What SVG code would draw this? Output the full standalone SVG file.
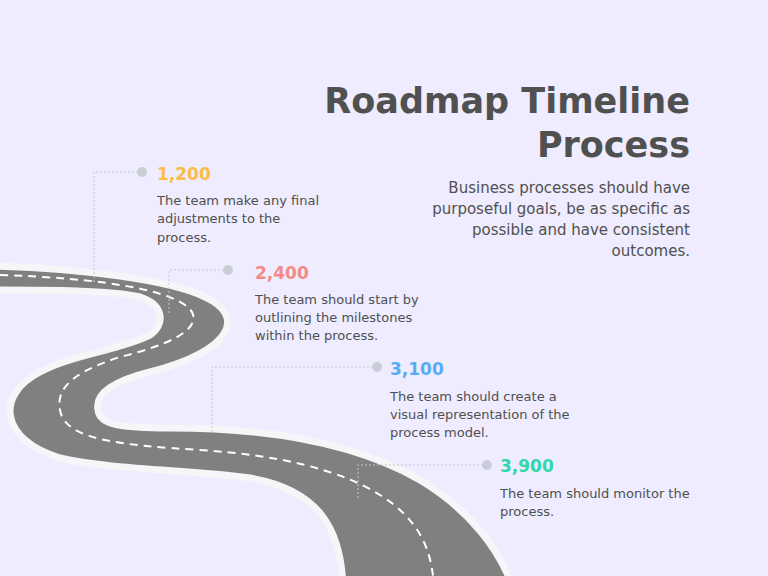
<svg xmlns="http://www.w3.org/2000/svg" width="768" height="576" viewBox="0 0 768 576">
<style>
text{font-family:"DejaVu Sans",sans-serif;fill:#505050}
.t{font-size:35px;font-weight:bold;text-anchor:end}
.s{font-size:15px;text-anchor:end}
.n{font-size:17px;font-weight:bold}
.d{font-size:13px}
.lead{fill:none;stroke:#c4c8d0;stroke-width:1;stroke-dasharray:2 2}
.dot{fill:#c9ced6}
</style>
<rect width="768" height="576" fill="#eeecfe"/>
<g id="road">
<path d="M-10,266 C80,268 170,280 205,297 C245,315 235,350 150,372 C110,382 95,395 98,410 C100,425 120,428 170,428 C260,428 350,440 420,480 C470,510 500,550 514,590 L343,590 C342,530 320,490 250,478 C200,470 110,470 60,458 C0,440 -5,395 40,372 C70,355 120,350 150,335 C165,325 165,305 140,297 C110,290 50,290 -10,290 Z" fill="#808080" stroke="#f6f6f8" stroke-width="7" stroke-linejoin="round"/>
<path d="M0,275 C100,278 178,290 192,312 C202,332 160,347 120,357 C80,370 55,385 60,410 C65,440 120,445 200,450 C280,455 340,470 380,495 C420,520 430,550 433,576" fill="none" stroke="#fff" stroke-width="2" stroke-dasharray="8 6"/>
</g>
<g id="connectors">
<path class="lead" d="M142,172 H94 V282"/>
<path class="lead" d="M228,270 H169 V313"/>
<path class="lead" d="M377,367 H212 V434"/>
<path class="lead" d="M487,465 H358 V498"/>
</g>
<g id="title">
<text class="t" x="690" y="113">Roadmap Timeline</text>
<text class="t" x="690" y="157">Process</text>
<text class="s" x="690" y="193">Business processes should have</text>
<text class="s" x="690" y="214">purposeful goals, be as specific as</text>
<text class="s" x="690" y="235">possible and have consistent</text>
<text class="s" x="690" y="256">outcomes.</text>
</g>
<g id="m1"><circle class="dot" cx="142" cy="172" r="5"/>
<text class="n" x="157" y="180" style="fill:#fbbd4a">1,200</text>
<text class="d" x="157" y="205">The team make any final</text>
<text class="d" x="157" y="223">adjustments to the</text>
<text class="d" x="157" y="242">process.</text></g>
<g id="m2"><circle class="dot" cx="228" cy="270" r="5"/>
<text class="n" x="255" y="279" style="fill:#f48a86">2,400</text>
<text class="d" x="255" y="304">The team should start by</text>
<text class="d" x="255" y="322">outlining the milestones</text>
<text class="d" x="255" y="340">within the process.</text></g>
<g id="m3"><circle class="dot" cx="377" cy="367" r="5"/>
<text class="n" x="390" y="375" style="fill:#5aabf6">3,100</text>
<text class="d" x="390" y="401">The team should create a</text>
<text class="d" x="390" y="419">visual representation of the</text>
<text class="d" x="390" y="437">process model.</text></g>
<g id="m4"><circle class="dot" cx="487" cy="465" r="5"/>
<text class="n" x="500" y="472" style="fill:#30d8aa">3,900</text>
<text class="d" x="500" y="498">The team should monitor the</text>
<text class="d" x="500" y="516">process.</text></g>
</svg>
